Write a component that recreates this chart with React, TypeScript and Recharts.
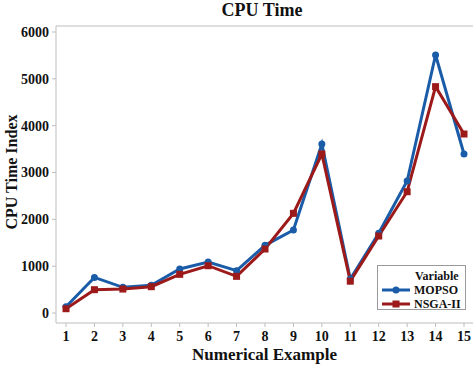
import { LineChart, Line, XAxis, YAxis, ReferenceLine } from 'recharts';

const examples = [1, 2, 3, 4, 5, 6, 7, 8, 9, 10, 11, 12, 13, 14, 15];
const mopso = [135, 760, 548, 591, 940, 1089, 904, 1445, 1772, 3609, 725, 1702, 2819, 5509, 3395];
const nsga2 = [92, 498, 512, 562, 826, 1010, 783, 1367, 2128, 3395, 680, 1644, 2590, 4833, 3822];
const yTicks = [0, 1000, 2000, 3000, 4000, 5000, 6000];

const BLUE = '#1a5ca8';
const RED = '#9c1a1a';
const AXIS = '#bdbdbd';
const FONT = '"Liberation Serif", "Times New Roman", serif';

const data = examples.map((x, i) => ({ x, MOPSO: mopso[i], NSGA: nsga2[i] }));

const SquareDot = (props: any) => {
  const { cx, cy } = props;
  if (cx == null || cy == null) return null;
  return <rect x={cx - 3.5} y={cy - 3.5} width={7} height={7} fill={RED} />;
};

const tickStyle = { fontFamily: FONT, fontSize: 14, fontWeight: 'bold', fill: '#111' };

function LegendRow({ color, label, square }: { color: string; label: string; square?: boolean }) {
  return (
    <div style={{ display: 'flex', alignItems: 'center', height: 14 }}>
      <svg width={30} height={10} style={{ marginRight: 3 }}>
        <line x1={1} y1={5} x2={29} y2={5} stroke={color} strokeWidth={3} />
        {square ? <rect x={11.5} y={1.5} width={7} height={7} fill={color} /> : <circle cx={15} cy={5} r={3.5} fill={color} />}
      </svg>
      <span>{label}</span>
    </div>
  );
}

export default function App() {
  return (
    <div style={{ position: 'absolute', left: 0, top: 0, width: 474, height: 366, background: '#fff', fontFamily: FONT }}>
      <LineChart width={474} height={366} data={data} margin={{ top: 26, right: 1, bottom: 13, left: 0 }}>
        <XAxis
          dataKey="x"
          height={30}
          padding={{ left: 10, right: 9 }}
          stroke={AXIS}
          tickSize={4}
          tickMargin={4}
          tick={tickStyle}
          interval={0}
        />
        <YAxis
          width={56}
          domain={[-213, 6128]}
          ticks={yTicks}
          allowDataOverflow
          stroke={AXIS}
          tickSize={4}
          tickMargin={3}
          tick={tickStyle}
        />
        <ReferenceLine y={6128} stroke={AXIS} strokeWidth={1} />
        <Line
          dataKey="MOPSO"
          stroke={BLUE}
          strokeWidth={3}
          dot={{ r: 3.5, fill: BLUE, stroke: BLUE, strokeWidth: 0 }}
          isAnimationActive={false}
        />
        <Line
          dataKey="NSGA"
          stroke={RED}
          strokeWidth={3}
          dot={<SquareDot />}
          isAnimationActive={false}
        />
      </LineChart>
      <div style={{ position: 'absolute', left: 0, width: 524, top: 0, textAlign: 'center', fontSize: 18, fontWeight: 'bold', lineHeight: '20px', color: '#111' }}>
        CPU Time
      </div>
      <div style={{ position: 'absolute', left: 56, width: 417, top: 345, textAlign: 'center', fontSize: 17, fontWeight: 'bold', lineHeight: '20px', color: '#111' }}>
        Numerical Example
      </div>
      <div
        style={{
          position: 'absolute',
          left: 12,
          top: 172,
          transform: 'translate(-50%, -50%) rotate(-90deg)',
          whiteSpace: 'nowrap',
          fontSize: 16,
          fontWeight: 'bold',
          color: '#111',
        }}
      >
        CPU Time Index
      </div>
      <div
        style={{
          position: 'absolute',
          left: 377,
          top: 265,
          width: 89,
          height: 45,
          border: '1px solid #9a9a9a',
          fontSize: 12,
          fontWeight: 'bold',
          color: '#111',
          boxSizing: 'border-box',
          padding: '4px 0 0 3px',
          background: '#fff',
        }}
      >
        <div style={{ paddingLeft: 34, height: 13, lineHeight: '13px' }}>Variable</div>
        <LegendRow color={BLUE} label="MOPSO" />
        <LegendRow color={RED} label="NSGA-II" square />
      </div>
    </div>
  );
}
